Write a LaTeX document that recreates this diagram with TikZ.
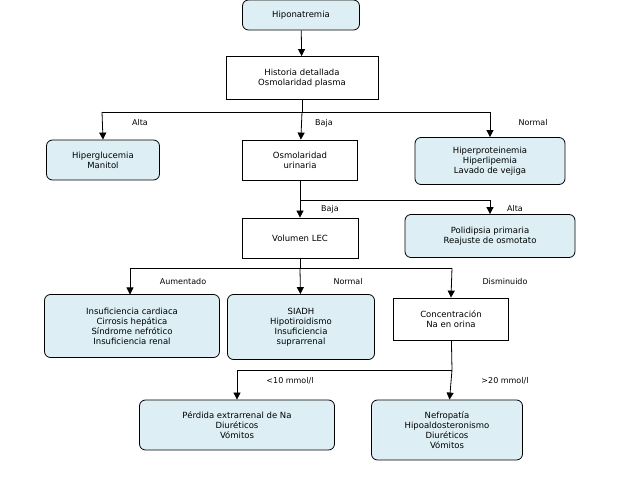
\documentclass[tikz,border=0pt]{standalone}
\usepackage{fontspec}
\setmainfont{DejaVu Sans}
\usetikzlibrary{arrows.meta}
\definecolor{bl}{HTML}{DDEFF4}
\begin{document}
\begin{tikzpicture}[x=1pt,y=-1pt,
  every node/.style={font=\fontsize{8.5}{10}\selectfont,align=center,inner sep=2pt},
  rb/.style={draw,thick,rounded corners=6pt,fill=bl},
  wb/.style={draw,thick,fill=white},
  ar/.style={thick,-{Triangle[length=7pt,width=7pt]}},
  ln/.style={thick},
  lab/.style={font=\fontsize{8}{9}\selectfont}]
\useasboundingbox (0,0) rectangle (638,478);
\node[rb,minimum width=117,minimum height=30] (h) at (301,15) {Hiponatremia};
\node[wb,minimum width=152,minimum height=43] (hd) at (302,78) {Historia detallada\\Osmolaridad plasma};
\node[rb,minimum width=113,minimum height=40] (hg) at (103,160) {Hiperglucemia\\Manitol};
\node[wb,minimum width=115,minimum height=40] (ou) at (300,160) {Osmolaridad\\urinaria};
\node[rb,minimum width=150,minimum height=47] (hp) at (490,161) {Hiperproteinemia\\Hiperlipemia\\Lavado de vejiga};
\node[wb,minimum width=116,minimum height=40] (vl) at (300,238) {Volumen LEC};
\node[rb,minimum width=170,minimum height=43] (pd) at (490,236) {Polidipsia primaria\\Reajuste de osmotato};
\node[rb,minimum width=175,minimum height=63] (ic) at (132,326) {Insuficiencia cardiaca\\Cirrosis hepática\\Síndrome nefrótico\\Insuficiencia renal};
\node[rb,minimum width=147,minimum height=65] (si) at (301,327) {SIADH\\Hipotiroidismo\\Insuficiencia\\suprarrenal};
\node[wb,minimum width=115,minimum height=42] (cn) at (451,319) {Concentración\\Na en orina};
\node[rb,minimum width=195,minimum height=50] (pe) at (237,425) {Pérdida extrarrenal de Na\\Diuréticos\\Vómitos};
\node[rb,minimum width=151,minimum height=60] (ne) at (447,430) {Nefropatía\\Hipoaldosteronismo\\Diuréticos\\Vómitos};
\coordinate (j1) at (302,112);
\draw[ar] (h) -- (hd);
\draw[ln] (hd) -- (j1);
\draw[ln] (102,112) -- (490,112);
\draw[ar] (102,112) -- (hg.north);
\draw[ar] (j1) -- (ou);
\draw[ar] (490,112) -- (hp.north);
\node[lab] at (140,123) {Alta};
\node[lab] at (324,123) {Baja};
\node[lab] at (533,123) {Normal};
\coordinate (j2) at (300,200);
\draw[ln] (ou) -- (j2) -- (490,200);
\draw[ar] (j2) -- (vl);
\draw[ar] (490,200) -- (pd.north);
\node[lab] at (330,209) {Baja};
\node[lab] at (515,209) {Alta};
\coordinate (j3) at (300,268);
\draw[ln] (vl) -- (j3);
\draw[ln] (130,268) -- (452,268);
\draw[ar] (130,268) -- (130,294.5);
\draw[ar] (j3) -- (si);
\draw[ar] (452,268) -- (cn.north);
\node[lab] at (183,282) {Aumentado};
\node[lab] at (348,282) {Normal};
\node[lab] at (505,282) {Disminuido};
\coordinate (j4) at (452,370);
\draw[ln] (cn) -- (j4);
\draw[ln] (237,370) -- (452,370);
\draw[ar] (237,370) -- (pe.north);
\draw[ar] (j4) -- (ne);
\node[lab] at (290,381) {<10 mmol/l};
\node[lab] at (505,381) {>20 mmol/l};
\end{tikzpicture}
\end{document}
